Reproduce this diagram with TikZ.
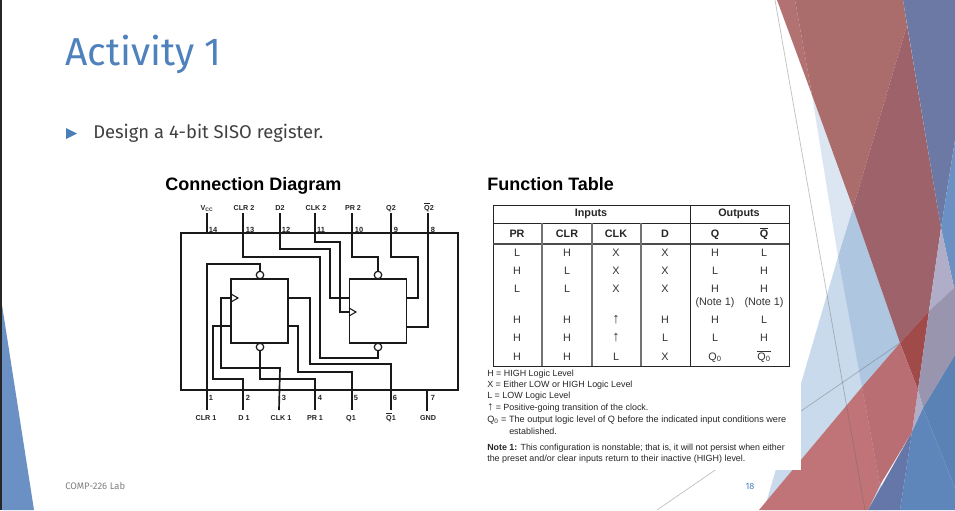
\documentclass[tikz,border=0pt]{standalone}
\usepackage{fontspec}
\setmainfont{Liberation Sans}
\newfontfamily\slidefont{Fira Sans}
\newcommand\ovl[1]{\leavevmode\vbox{\hrule height .55pt \kern .7pt \hbox{#1}}}
\newcommand\fsz[1]{\fontsize{#1}{#1}\selectfont}
\newcommand\uparr{{\fsz{11}↑}}
\tikzset{
  wire/.style={line width=1.25pt,black!90,line join=miter},
  ffbox/.style={draw=black!90,line width=1.25pt,minimum width=42.75pt,minimum height=48pt,inner sep=0pt,fill=none},
  bub/.style={circle,draw=black!90,line width=.9pt,minimum size=5.6pt,inner sep=0pt},
  pinlab/.style={font=\fsz{5.4}\bfseries,inner sep=0pt,text=black!85,anchor=base},
  pinnum/.style={font=\fsz{5.6}\bfseries,inner sep=0pt,text=black!85,anchor=base},
  head/.style={font=\fsz{13.5}\bfseries,inner sep=0pt,anchor=base west},
  cell/.style={font=\fsz{8.1},inner sep=0pt,text=black!80,anchor=base},
  hcell/.style={font=\fsz{8.1}\bfseries,inner sep=0pt,text=black!85,anchor=base},
  legend/.style={font=\fsz{6.7},inner sep=0pt,anchor=base west,text=black!85},
  tline/.style={line width=.7pt,black!85},
  gline/.style={line width=.8pt,black!55},
  thin/.style={line width=.55pt,black!60,opacity=.4},
}
\definecolor{cLight}{HTML}{C9DAEC}
\definecolor{cPale}{HTML}{DCE6F2}
\definecolor{cMed}{HTML}{AFC6E0}
\definecolor{cRoseA}{HTML}{B27272}
\definecolor{cRose}{HTML}{AB6C6C}
\definecolor{cMauve}{HTML}{9E636A}
\definecolor{cDusk}{HTML}{6B79A4}
\definecolor{cBlue}{HTML}{6A90C4}
\definecolor{cBlueB}{HTML}{5F86BA}
\definecolor{cBlueC}{HTML}{5B82B5}
\definecolor{cBlueD}{HTML}{6577A9}
\definecolor{cPink}{HTML}{C07478}
\definecolor{cPinkB}{HTML}{B86E73}
\definecolor{cDeep}{HTML}{A04A4A}
\definecolor{cLilac}{HTML}{9A95AE}
\definecolor{cLilacB}{HTML}{B0ADC8}
\definecolor{cTitle}{HTML}{4F81BD}
\definecolor{cBullet}{HTML}{4A7EBB}
\begin{document}
\begin{tikzpicture}[x=.75pt,y=-.75pt]
\useasboundingbox (0,0) rectangle (955,510);
\fill[white] (0,0) rectangle (955,510);
% left decoration
\fill[black!85] (0,0) rectangle (2,510);
\fill[fill={rgb,255:red,106;green,144;blue,196}] (2,305) -- (34,510) -- (2,510) -- cycle;
% right decoration
\fill[cLight] (838,257) -- (764,510) -- (886,510) -- cycle;
\fill[cPale] (812,95) -- (853,208) -- (838,257) -- cycle;
\fill[cMed] (838,257) -- (853,208) -- (900,343) -- (862,387) -- cycle;
\fill[cRoseA] (777,0) -- (795,0) -- (812,95) -- cycle;
\fill[cRose] (795,0) -- (903,0) -- (907,25) -- (853,208) -- (812,95) -- cycle;
\fill[cMauve] (853,208) -- (907,25) -- (941,228) -- (929,311) -- (900,343) -- cycle;
\fill[cDusk] (903,0) -- (955,0) -- (955,140) -- (941,228) -- cycle;
\fill[cBlue] (941,228) -- (955,140) -- (955,292) -- cycle;
\fill[cLilacB] (941,228) -- (955,292) -- (955,287) -- (929,311) -- cycle;
\fill[cDeep] (900,343) -- (929,311) -- (918,390) -- cycle;
\fill[cLilac] (929,311) -- (955,287) -- (955,355) -- (923,408) -- (918,390) -- cycle;
\fill[cLilacB] (918,390) -- (923,408) -- (912,432) -- cycle;
\fill[cBlueB] (923,408) -- (955,488) -- (955,510) -- (900,510) -- (912,432) -- cycle;
\fill[cBlueC] (923,408) -- (955,355) -- (955,488) -- cycle;
\fill[cBlueD] (868,510) -- (912,432) -- (900,510) -- cycle;
\fill[cPink] (862,387) -- (880,485) -- (868,510) -- (759,510) -- cycle;
\fill[cPinkB] (862,387) -- (900,343) -- (918,390) -- (912,432) -- (880,485) -- cycle;
\draw[thin] (775,0) -- (865,510);
\draw[thin] (657,510) -- (900,343);
% pasted image ground
\fill[white] (160,170) rectangle (801,470);
% title
\node[anchor=base west,inner sep=0pt,font=\slidefont\fsz{29.2},text=cTitle] (title) at (65,65) {Activity 1};
\fill[cBullet] (66,128) -- (77,133.5) -- (66,139) -- cycle;
\node[anchor=base west,inner sep=0pt,font=\slidefont\fsz{13.8},text=black!75] (bul) at (93,138) {Design a 4-bit SISO register.};
\node[anchor=base west,inner sep=0pt,font=\slidefont\fsz{7.1},text=black!50] (foot) at (65,489) {COMP-226 Lab};
\node[inner sep=0pt,font=\slidefont\fsz{6.8},text=cTitle] (page) at (750,486) {18};
% connection diagram
\node[head] (hc) at (165,190) {Connection Diagram};
\draw[wire] (181,233) rectangle (458,390);
\node[ffbox] (ffl) at (259.5,311) {};
\node[ffbox] (ffr) at (378,311) {};
\node[bub] (bl1) at (260,275) {};
\node[bub] (bl2) at (260,347) {};
\node[bub] (br1) at (378,275) {};
\node[bub] (br2) at (378,347) {};
% top pins
\coordinate (t14) at (207,213);
\coordinate (t13) at (243,213);
\coordinate (t12) at (280,213);
\coordinate (t11) at (315,213);
\coordinate (t10) at (352,213);
\coordinate (t9) at (391,213);
\coordinate (t8) at (428,213);
\node[pinlab] (lt14) at (207,210) {V\textsubscript{CC}};
\node[pinlab] (lt13) at (244,210) {CLR 2};
\node[pinlab] (lt12) at (280,210) {D2};
\node[pinlab] (lt11) at (316,210) {CLK 2};
\node[pinlab] (lt10) at (353,210) {PR 2};
\node[pinlab] (lt9) at (391,210) {Q2};
\node[pinlab] (lt8) at (429,210) {\ovl{Q}2};
\node[pinnum] (nt14) at (213,232) {14};
\node[pinnum] (nt13) at (250,232) {13};
\node[pinnum] (nt12) at (286,232) {12};
\node[pinnum] (nt11) at (321,232) {11};
\node[pinnum] (nt10) at (359,232) {10};
\node[pinnum] (nt9) at (396,232) {9};
\node[pinnum] (nt8) at (433,232) {8};
% bottom pins
\coordinate (b1) at (207,410);
\coordinate (b2) at (243,410);
\coordinate (b3) at (279,410);
\coordinate (b4) at (315,410);
\coordinate (b5) at (352,410);
\coordinate (b6) at (391,410);
\coordinate (b7) at (427,411);
\coordinate (g7) at (427,390);
\node[pinlab] (lb1) at (206,420) {CLR 1};
\node[pinlab] (lb2) at (244,420) {D 1};
\node[pinlab] (lb3) at (281,420) {CLK 1};
\node[pinlab] (lb4) at (315,420) {PR 1};
\node[pinlab] (lb5) at (351,420) {Q1};
\node[pinlab] (lb6) at (391,420) {\ovl{Q}1};
\node[pinlab] (lb7) at (428,420) {GND};
\node[pinnum] (nb1) at (211,400) {1};
\node[pinnum] (nb2) at (248,400) {2};
\node[pinnum] (nb3) at (284,400) {3};
\node[pinnum] (nb4) at (320,400) {4};
\node[pinnum] (nb5) at (356,400) {5};
\node[pinnum] (nb6) at (395,400) {6};
\node[pinnum] (nb7) at (433,400) {7};
% clock inputs
\coordinate (ckl) at (231,298);
\coordinate (ckr) at (349,312);
\draw[wire,line width=.8pt] (231,294) -- (238,298) -- (231,302);
\draw[wire,line width=.8pt] (349,308) -- (356,312) -- (349,316);
% wires
\draw[wire] (t14) -- (207,233);
\draw[wire] (t13) |- (320,257) |- (378,358) -- (br2.south);
\draw[wire] (t12) |- (330,249) |- (349,298);
\draw[wire] (t11) |- (340,242) |- (ckr);
\draw[wire] (t10) |- (378,257) -- (br1.north);
\draw[wire] (t9) |- (418,257) |- (407,298);
\draw[wire] (t8) |- (407,327);
\draw[wire] (bl1.north) |- (207,264) -- (b1);
\draw[wire] (ckl) -- (221,298) |- (280,368) -- (b3);
\draw[wire] (231,326) -- (213,326) |- (243,379) -- (b2);
\draw[wire] (bl2.south) |- (315,379) -- (b4);
\draw[wire] (288,298) -- (310,298) |- (391,364) -- (b6);
\draw[wire] (288,326) -- (298,326) |- (352,372) -- (b5);
\draw[wire] (g7) -- (b7);
% function table
\node[head] (hf) at (487,190) {Function Table};
\draw[tline] (493,205) rectangle (789,366);
\draw[tline] (493,223) -- (789,223);
\draw[gline,black!70] (493,244) -- (789,244);
\draw[tline] (690,205) -- (690,366);
\foreach \x in {542,592,641} \draw[gline] (\x,223) -- (\x,366);
\node[hcell] (hin) at (591,216) {Inputs};
\node[hcell] (hout) at (739,216) {Outputs};
\node[hcell] (h1) at (517,237) {PR};
\node[hcell] (h2) at (567,237) {CLR};
\node[hcell] (h3) at (616,237) {CLK};
\node[hcell] (h4) at (665,237) {D};
\node[hcell] (h5) at (715,237) {Q};
\node[hcell] (h6) at (764,237) {\ovl{Q}};
\foreach \r/\y/\a/\b/\c/\d/\e/\f in {
 1/256/L/H/X/X/H/L,
 2/274/H/L/X/X/L/H,
 3/292/L/L/X/X/H/H,
 4/323/H/H/\uparr/H/H/L,
 5/341/H/H/\uparr/L/L/H}{
  \node[cell] (c\r a) at (517,\y) {\a};
  \node[cell] (c\r b) at (567,\y) {\b};
  \node[cell] (c\r c) at (616,\y) {\c};
  \node[cell] (c\r d) at (665,\y) {\d};
  \node[cell] (c\r e) at (715,\y) {\e};
  \node[cell] (c\r f) at (764,\y) {\f};
}
\node[cell] (n1) at (715,305) {(Note 1)};
\node[cell] (n2) at (764,305) {(Note 1)};
\node[cell] (c6a) at (517,360) {H};
\node[cell] (c6b) at (567,360) {H};
\node[cell] (c6c) at (616,360) {L};
\node[cell] (c6d) at (665,360) {X};
\node[cell] (c6e) at (715,360) {Q\textsubscript{0}};
\node[cell] (c6f) at (764,360) {\ovl{Q\textsubscript{0}}};
% legend
\node[legend] (l1) at (487,376) {H = HIGH Logic Level};
\node[legend] (l2) at (487,387) {X = Either LOW or HIGH Logic Level};
\node[legend] (l3) at (487,398) {L = LOW Logic Level};
\node[legend] (l4) at (487,410) {{\fsz{9}↑} = Positive-going transition of the clock.};
\node[legend,font=\fsz{6.85}] (l5) at (487,422) {Q\textsubscript{0} = The output logic level of Q before the indicated input conditions were};
\node[legend] (l6) at (509,434) {established.};
\node[legend,font=\fsz{6.65}] (l7) at (487,450) {\textbf{Note 1:} This configuration is nonstable; that is, it will not persist when either};
\node[legend] (l8) at (487,461) {the preset and/or clear inputs return to their inactive (HIGH) level.};
\end{tikzpicture}
\end{document}
